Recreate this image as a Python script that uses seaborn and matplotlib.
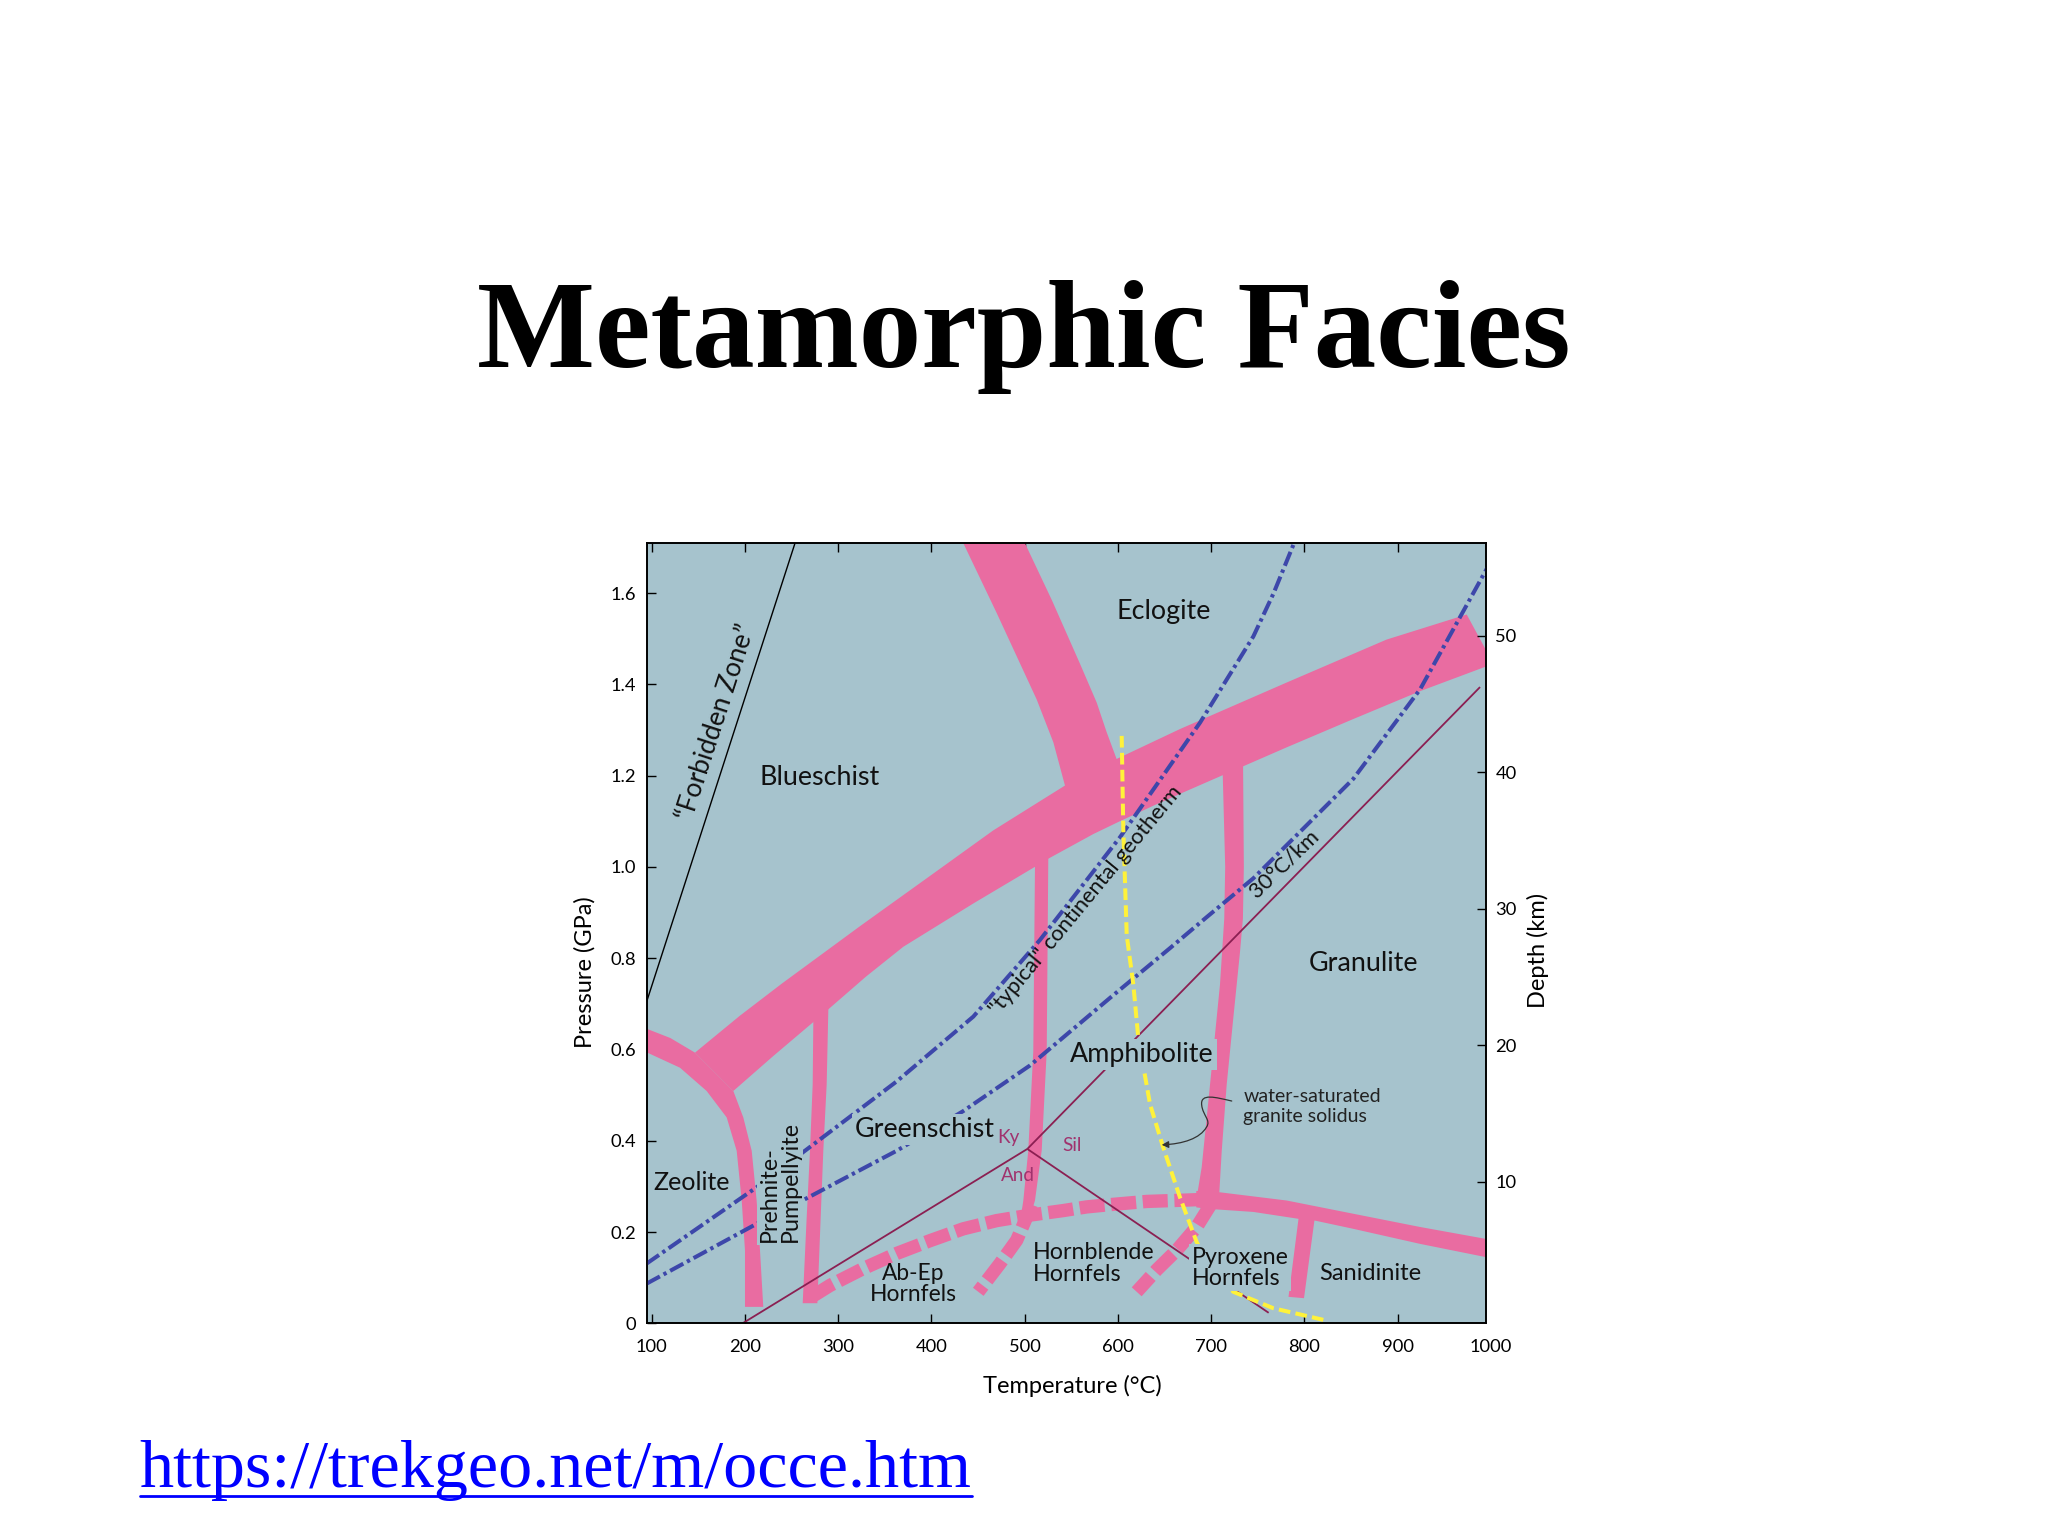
import matplotlib
matplotlib.use("Agg")
import matplotlib.pyplot as plt
import matplotlib.transforms as mtransforms
from matplotlib.path import Path
from matplotlib.patches import FancyArrowPatch
from matplotlib.lines import Line2D
import seaborn as sns

# ---------------- data (T in degC, P in GPa) ----------------
# Eclogite / Blueschist boundary band
B1_T = [430, 434.2, 470, 512.8, 530.7, 543.2, 560, 610, 598.6, 587.9, 577.2, 559.3, 529, 500.3, 499]
B1_P = [1.75, 1.709, 1.556, 1.367, 1.273, 1.178, 1.12, 1.20, 1.236, 1.295, 1.36, 1.445, 1.585, 1.709, 1.75]
# main diagonal band (upper edge left->right, then lower edge right->left)
B2_UP_T = [146.4, 194.6, 240, 290, 323.3, 394.9, 466.3, 543, 595, 666.5, 781, 888, 974]
B2_UP_P = [0.593, 0.674, 0.745, 0.82, 0.87, 0.975, 1.08, 1.178, 1.233, 1.302, 1.404, 1.498, 1.553]
B2_LO_T = [996, 996, 924, 852.4, 781, 732.7, 711.3, 666.5, 637.9, 602, 573.6, 525.3, 509.2,
           445, 369.8, 330, 289.4, 273.3, 230, 187.5]
B2_LO_P = [1.47, 1.44, 1.385, 1.324, 1.262, 1.219, 1.2, 1.16, 1.134, 1.1, 1.072, 1.018, 0.998,
           0.92, 0.825, 0.76, 0.688, 0.66, 0.585, 0.509]
# Zeolite boundary band
B3_T = [90, 120, 146.4, 187.5, 198.2, 207.2, 212.5, 216.1, 219.6, 200, 200, 196.5, 191.1, 180.4, 158.9, 130.3, 90]
B3_P = [0.649, 0.625, 0.593, 0.509, 0.451, 0.378, 0.269, 0.16, 0.036, 0.036, 0.16, 0.269, 0.378, 0.451, 0.509, 0.56, 0.598]
# Prehnite-Pumpellyite / Greenschist band
B4_T = [275, 273.3, 272.6, 269.7, 266.2, 261.9, 277.6, 281.2, 284, 287.6, 289.4, 291]
B4_P = [0.72, 0.66, 0.523, 0.378, 0.233, 0.044, 0.044, 0.233, 0.378, 0.523, 0.688, 0.74]
# Greenschist / Amphibolite band
B5_T = [511, 511, 509.2, 503.8, 498.5, 496, 506, 511, 518.2, 523.6, 525.3, 526]
B5_P = [1.06, 1.0, 0.596, 0.378, 0.269, 0.235, 0.235, 0.269, 0.378, 0.596, 1.022, 1.06]
# Amphibolite / Granulite band
B6_T = [712, 715, 714, 709.4, 702.3, 695.2, 689.8, 684.5, 684, 706, 708.7, 711.3, 716.6, 723.7, 730.9, 734, 735, 734]
B6_P = [1.23, 1.0, 0.887, 0.742, 0.596, 0.451, 0.342, 0.276, 0.26, 0.26, 0.287, 0.378, 0.523, 0.669, 0.814, 0.887, 1.0, 1.27]
# Hornfels / Granulite band (solid part)
B7_T = [684, 709.4, 781, 852.4, 924, 997, 997, 924, 852.4, 811.3, 793.4, 745.2, 695.1, 684]
B7_P = [0.29, 0.287, 0.269, 0.24, 0.211, 0.184, 0.144, 0.174, 0.207, 0.225, 0.229, 0.244, 0.251, 0.254]
# Pyroxene hornfels / Sanidinite band
B8_T = [794, 782.9, 799.5, 811]
B8_P = [0.235, 0.058, 0.055, 0.23]
# dashed facies boundaries (centre lines)
ABEP_T = [271.5, 291.2, 326.9, 362.7, 398.4, 434.1, 469.9, 505.7, 541.4, 566.5, 591.5, 630.8, 673.7, 686]
ABEP_P = [0.058, 0.083, 0.12, 0.153, 0.181, 0.207, 0.225, 0.237, 0.247, 0.255, 0.26, 0.267, 0.27, 0.271]
HBL_T = [507, 502.1, 491.4, 473.5, 450.2]
HBL_P = [0.26, 0.233, 0.182, 0.131, 0.069]
PYX_T = [700, 684.4, 663, 641.5, 620.1]
PYX_P = [0.262, 0.211, 0.16, 0.117, 0.069]
# geotherms
GEO_T = [94.6, 212.5, 309, 362.7, 444.9, 516.4, 602.2, 688, 745.2, 767, 790]
GEO_P = [0.131, 0.298, 0.447, 0.53, 0.672, 0.84, 1.065, 1.316, 1.505, 1.6, 1.715]
G30_T = [94.6, 212.5, 262.5, 362.7, 434.1, 505.7, 591.5, 655.8, 695.2, 745.2, 852.4, 924, 996]
G30_P = [0.087, 0.218, 0.27, 0.378, 0.465, 0.565, 0.713, 0.822, 0.89, 0.975, 1.193, 1.389, 1.655]
# Al2SiO5 triple point lines
ANDKY_T = [197.5, 502.8]
ANDKY_P = [0.0, 0.382]
KYSIL_T = [502.8, 988.3]
KYSIL_P = [0.382, 1.394]
ANDSIL_T = [502.8, 761.6]
ANDSIL_P = [0.382, 0.023]
# "forbidden zone" limit
FORB_T = [94.6, 253.6]
FORB_P = [0.705, 1.709]
# water-saturated granite solidus
SOL_T = [604, 605.7, 609.4, 616.5, 621.8, 634.4, 648.6, 666.5, 684.4, 700, 723.7, 766.6, 820.2]
SOL_P = [1.287, 1.084, 0.85, 0.742, 0.625, 0.48, 0.385, 0.276, 0.178, 0.12, 0.069, 0.033, 0.0076]

XTICKS = [100, 200, 300, 400, 500, 600, 700, 800, 900]
YTICKS = [0, 0.2, 0.4, 0.6, 0.8, 1.0, 1.2, 1.4, 1.6]
YTICKLABELS = ["0", "0.2", "0.4", "0.6", "0.8", "1.0", "1.2", "1.4", "1.6"]
DTICKS = [10, 20, 30, 40, 50]

BIG_LABELS = [("Eclogite", 648.6, 1.56), ("Blueschist", 280.4, 1.196),
              ("Granulite", 863.2, 0.789)]
BOXED_LABELS = [("Amphibolite", 625.4, 0.589), ("Greenschist", 393, 0.425)]
SMALL_LABELS = [("Ky", 482.4, 0.407), ("Sil", 550.4, 0.389), ("And", 493.1, 0.323)]

# ---------------- style ----------------
BG = "#A6C3CD"
PINK = "#E96CA1"
BLUE = "#3D47AA"
MAROON = "#8B1F52"
YELLOW = "#FFF23A"
LABC = "#A0336E"

sns.set_theme(style="ticks")
plt.rcParams["font.family"] = ["Lato", "DejaVu Sans"]
plt.rcParams["lines.scale_dashes"] = False

W, H = 2048, 1536
fig = plt.figure(figsize=(10.24, 7.68), dpi=200, facecolor="white")
ax = fig.add_axes([0.31577, 0.13848, 0.40982, 0.50781])
ax.set_facecolor(BG)

def band(T, P):
    ax.fill(T, P, color=PINK, lw=0, zorder=1)

band(B2_UP_T + B2_LO_T, B2_UP_P + B2_LO_P)
for T, P in [(B1_T, B1_P), (B3_T, B3_P), (B4_T, B4_P), (B5_T, B5_P),
             (B6_T, B6_P), (B7_T, B7_P), (B8_T, B8_P)]:
    band(T, P)

def line(T, P, color, lw, ls, z):
    sns.lineplot(x=T, y=P, sort=False, estimator=None, color=color,
                 linewidth=lw, linestyle=ls, ax=ax, zorder=z,
                 dash_capstyle="butt", solid_capstyle="butt")

pink_dash = (0, (9, 2.4))
line(ABEP_T, ABEP_P, PINK, 4.8, pink_dash, 1.5)
line(HBL_T, HBL_P, PINK, 4.8, pink_dash, 1.5)
line(PYX_T, PYX_P, PINK, 4.8, pink_dash, 1.5)

line(ANDKY_T, ANDKY_P, MAROON, 0.65, "-", 2)
line(KYSIL_T, KYSIL_P, MAROON, 0.65, "-", 2)
line(ANDSIL_T, ANDSIL_P, MAROON, 0.65, "-", 2)
line(FORB_T, FORB_P, "black", 0.5, "-", 2)

dashdot = (0, (5.4, 1.5, 1.2, 1.5))
line(GEO_T, GEO_P, BLUE, 1.45, dashdot, 3)
line(G30_T, G30_P, BLUE, 1.45, dashdot, 3)
line(SOL_T, SOL_P, YELLOW, 1.45, (0, (4.2, 1.9)), 3.5)

ax.set_xlim(94.6, 994.7)
ax.set_ylim(0, 1.709)

# ---------------- labels inside plot ----------------
boxkw = dict(boxstyle="square,pad=0.12", fc=BG, ec="none")
for s, t, p in BIG_LABELS:
    ax.text(t, p, s, ha="center", va="center", fontsize=9.7, color="#111111", zorder=5)
for s, t, p in BOXED_LABELS:
    ax.text(t, p, s, ha="center", va="center", fontsize=9.7, color="#111111",
            zorder=5, bbox=boxkw)
ax.text(142.8, 0.309, "Zeolite", ha="center", va="center", fontsize=9.0, color="#111111", zorder=5)
ax.text(870.3, 0.11, "Sanidinite", ha="center", va="center", fontsize=8.5, color="#111111", zorder=5)
ax.text(237.5, 0.311, "Prehnite-\nPumpellyite", rotation=90, ha="center", va="center",
        multialignment="left", linespacing=0.95, fontsize=8.4, color="#111111",
        zorder=5, bbox=boxkw)
ax.text(380.5, 0.087, "Ab-Ep\nHornfels", ha="center", va="center", multialignment="center",
        linespacing=1.0, fontsize=8.2, color="#111111", zorder=5)
ax.text(509.2, 0.131, "Hornblende\nHornfels", ha="left", va="center", multialignment="left",
        linespacing=1.05, fontsize=8.4, color="#111111", zorder=5)
ax.text(679, 0.122, "Pyroxene\nHornfels", ha="left", va="center", multialignment="left",
        linespacing=1.0, fontsize=8.4, color="#111111", zorder=5, bbox=boxkw)
for s, t, p in SMALL_LABELS:
    ax.text(t, p, s, ha="center", va="center", fontsize=6.8, color=LABC, zorder=5)
ax.text(734.4, 0.475, "water-saturated\ngranite solidus", ha="left", va="center",
        multialignment="left", linespacing=1.25, fontsize=7.0, color="#222222", zorder=5)
ax.text(169.6, 1.316, "\u201cForbidden Zone\u201d", rotation=72, rotation_mode="anchor",
        ha="center", va="center", fontsize=9.5, color="#111111", zorder=5)
ax.text(565.5, 0.927, "\"typical\" continental geotherm", rotation=50.5, rotation_mode="anchor",
        ha="center", va="center", fontsize=7.9, color="#111111", zorder=5)
ax.text(778, 1.007, "30\u00b0C/km", rotation=44, rotation_mode="anchor",
        ha="center", va="center", fontsize=7.9, color="#111111", zorder=5)

# arrow from label to solidus
verts = [(722, 0.487), (705, 0.495), (688, 0.505), (689.8, 0.478),
         (691, 0.455), (700, 0.445), (695, 0.43),
         (688, 0.405), (670, 0.393), (646.9, 0.391)]
codes = [Path.MOVETO] + [Path.CURVE4] * 9
arr = FancyArrowPatch(path=Path(verts, codes), arrowstyle="-|>", mutation_scale=5,
                      lw=0.45, color="#333333", zorder=5)
ax.add_patch(arr)

# ---------------- axes ----------------
ax.set_xticks(XTICKS, [str(v) for v in XTICKS])
ax.set_yticks(YTICKS, YTICKLABELS)
ax.tick_params(axis="x", which="both", direction="in", top=True, bottom=True,
               length=3.2, width=0.5, pad=5.5, labelsize=6.6, colors="black")
ax.tick_params(axis="y", which="both", direction="in", left=True, right=False,
               length=3.2, width=0.5, pad=3.8, labelsize=6.6, colors="black")
for sp in ax.spines.values():
    sp.set_visible(True)
    sp.set_linewidth(0.6)
    sp.set_color("black")
ax.text(1000, 0, "1000", transform=mtransforms.blended_transform_factory(ax.transData, ax.transAxes)
        + mtransforms.ScaledTranslation(0, -5.5 / 72, fig.dpi_scale_trans),
        ha="center", va="top", fontsize=6.6, color="black", clip_on=False)

ax.set_xlabel("Temperature (\u00b0C)", fontsize=8.5, color="black")
ax.xaxis.set_label_coords(0.507, -0.066)
ax.set_ylabel("Pressure (GPa)", fontsize=8.5, color="black")
ax.yaxis.set_label_coords(-0.061, 0.4508)

ax2 = ax.twinx()
ax2.set_ylim(-0.36, 56.79)
ax2.set_yticks(DTICKS, [str(v) for v in DTICKS])
ax2.tick_params(axis="y", direction="in", length=3.2, width=0.5, pad=3.4,
                labelsize=6.6, colors="black")
for sp in ax2.spines.values():
    sp.set_linewidth(0.6)
    sp.set_color("black")
ax2.set_ylabel("Depth (km)", fontsize=8.5, color="black")
ax2.yaxis.set_label_coords(1.0489, 0.4786)

# ---------------- title and link ----------------
fig.text(0.5, 1 - 366.7 / H, "Metamorphic Facies", ha="center", va="baseline",
         fontsize=45, fontweight="bold", family=["Liberation Serif", "DejaVu Serif"], color="black")
url = fig.text(139.6 / W, 1 - 1486.7 / H, "https://trekgeo.net/m/occe.htm", ha="left",
               va="baseline", fontsize=24.55, family=["Liberation Serif", "DejaVu Serif"], color="#0000FF")
renderer = fig.canvas.get_renderer()
bb = url.get_window_extent(renderer=renderer)
uy = (H - 1496) / H
fig.add_artist(Line2D([bb.x0 / W, bb.x1 / W], [uy, uy], transform=fig.transFigure,
                      color="#0000FF", linewidth=1.0))

fig.savefig("out.png", dpi=200, facecolor="white")
